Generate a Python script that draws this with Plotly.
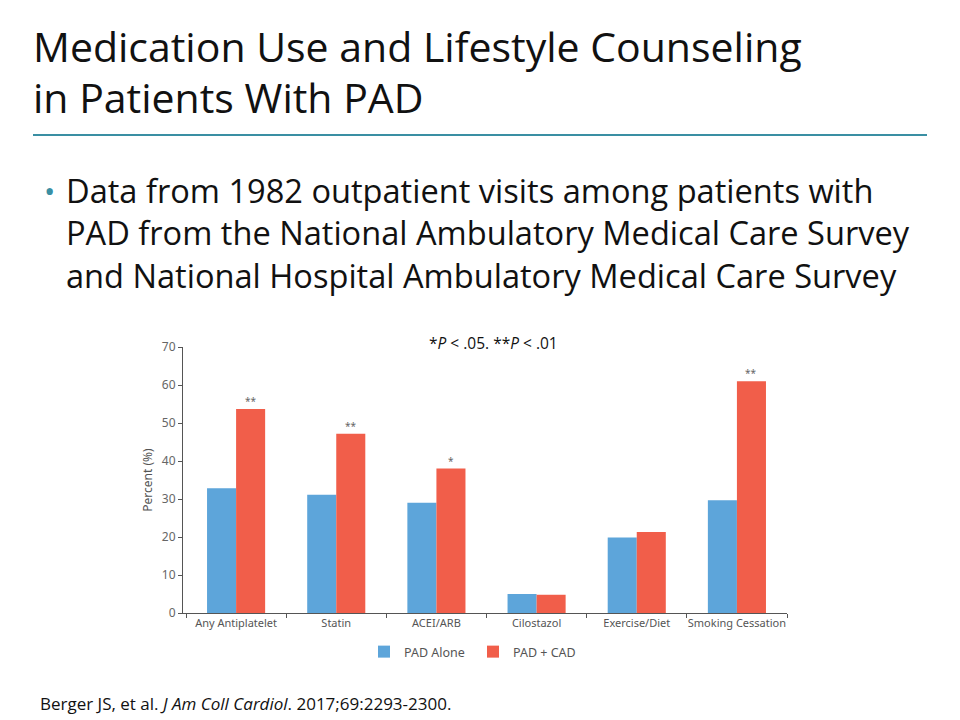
import plotly.graph_objects as go

categories = ["Any Antiplatelet", "Statin", "ACEI/ARB", "Cilostazol", "Exercise/Diet", "Smoking Cessation"]
pad_alone = [32.8, 31.1, 29.0, 5.0, 19.9, 29.7]
pad_cad = [53.7, 47.2, 38.0, 4.8, 21.3, 61.0]
significance = ["**", "**", "*", "", "", "**"]
series_names = ["PAD Alone", "PAD + CAD"]
y_ticks = [0, 10, 20, 30, 40, 50, 60, 70]

BLUE = "#5DA5DA"
RED = "#F15E4A"
TEAL = "#3A8FA3"

W, H = 960, 720
L, R, T, B = 183, 960 - 787, 347, 107
PW, PH = W - L - R, H - T - B


def px(x):
    return (x - L) / PW


def py(y):
    return (H - B - y) / PH


fig = go.Figure()
fig.add_trace(go.Bar(x=categories, y=pad_alone, name=series_names[0], marker_color=BLUE, marker_line_width=0))
fig.add_trace(go.Bar(x=categories, y=pad_cad, name=series_names[1], marker_color=RED, marker_line_width=0))

annotations = []
for c, v, s in zip(categories, pad_cad, significance):
    if s:
        annotations.append(dict(x=c, y=v, xref="x", yref="y", text=s, showarrow=False,
                                xshift=14.5, yshift=8, font=dict(size=10, color="#666", family="Noto Sans")))

TF = "Open Sans"
bullet_text = ("Data from 1982 outpatient visits among patients with<br>"
               "PAD from the National Ambulatory Medical Care Survey<br>"
               "and National Hospital Ambulatory Medical Care Survey")
annotations += [
    dict(x=px(31), y=py(46), xref="paper", yref="paper", xanchor="left", yanchor="middle",
         text="Medication Use and Lifestyle Counseling", showarrow=False,
         font=dict(size=41, color="#111", family=TF)),
    dict(x=px(31), y=py(97), xref="paper", yref="paper", xanchor="left", yanchor="middle",
         text="in Patients With PAD", showarrow=False,
         font=dict(size=41, color="#111", family=TF)),
    dict(x=px(42), y=py(190), xref="paper", yref="paper", xanchor="left", yanchor="middle",
         text="•", showarrow=False, font=dict(size=30, color=TEAL, family=TF)),
    dict(x=px(64), y=py(233), xref="paper", yref="paper", xanchor="left", yanchor="middle",
         align="left", text=bullet_text, showarrow=False,
         font=dict(size=32.6, color="#111", family=TF)),
    dict(x=px(493), y=py(343), xref="paper", yref="paper", xanchor="center", yanchor="middle",
         text="*<i>P</i> < .05. **<i>P</i> < .01", showarrow=False,
         font=dict(size=15.5, color="#111", family=TF)),
    dict(x=px(38), y=py(703), xref="paper", yref="paper", xanchor="left", yanchor="middle",
         text="Berger JS, et al. <i>J Am Coll Cardiol</i>. 2017;69:2293-2300.", showarrow=False,
         font=dict(size=17, color="#111", family=TF)),
]

fig.update_layout(
    width=W, height=H,
    margin=dict(l=L, r=R, t=T, b=B, autoexpand=False),
    paper_bgcolor="white", plot_bgcolor="white",
    barmode="group", bargap=0.42, bargroupgap=0,
    font=dict(family="Noto Sans", color="#555"),
    annotations=annotations,
    shapes=[dict(type="line", xref="paper", yref="paper", x0=px(33), x1=px(927), y0=py(135), y1=py(135),
                 line=dict(color=TEAL, width=2))],
    legend=dict(orientation="h", x=px(364), y=py(652), xanchor="left", yanchor="middle",
                font=dict(size=12.5, color="#555"), entrywidth=64, entrywidthmode="pixels",
                bgcolor="rgba(0,0,0,0)"),
    showlegend=True,
)
fig.update_xaxes(range=[-0.53, 5.5], showline=True, linecolor="#555", linewidth=1.2,
                 ticks="outside", tickson="boundaries", ticklen=4, tickcolor="#555", tickangle=0,
                 tickfont=dict(size=11, color="#555"), showgrid=False, zeroline=False)
fig.update_yaxes(range=[0, 70], tickvals=y_ticks, showline=True, linecolor="#555", linewidth=1.2,
                 ticks="outside", ticklen=4, tickcolor="#555", tickfont=dict(size=12, color="#666"),
                 showgrid=False, zeroline=False,
                 title=dict(text="Percent (%)", font=dict(size=12, color="#555"), standoff=6))

fig.write_html("out.html")
